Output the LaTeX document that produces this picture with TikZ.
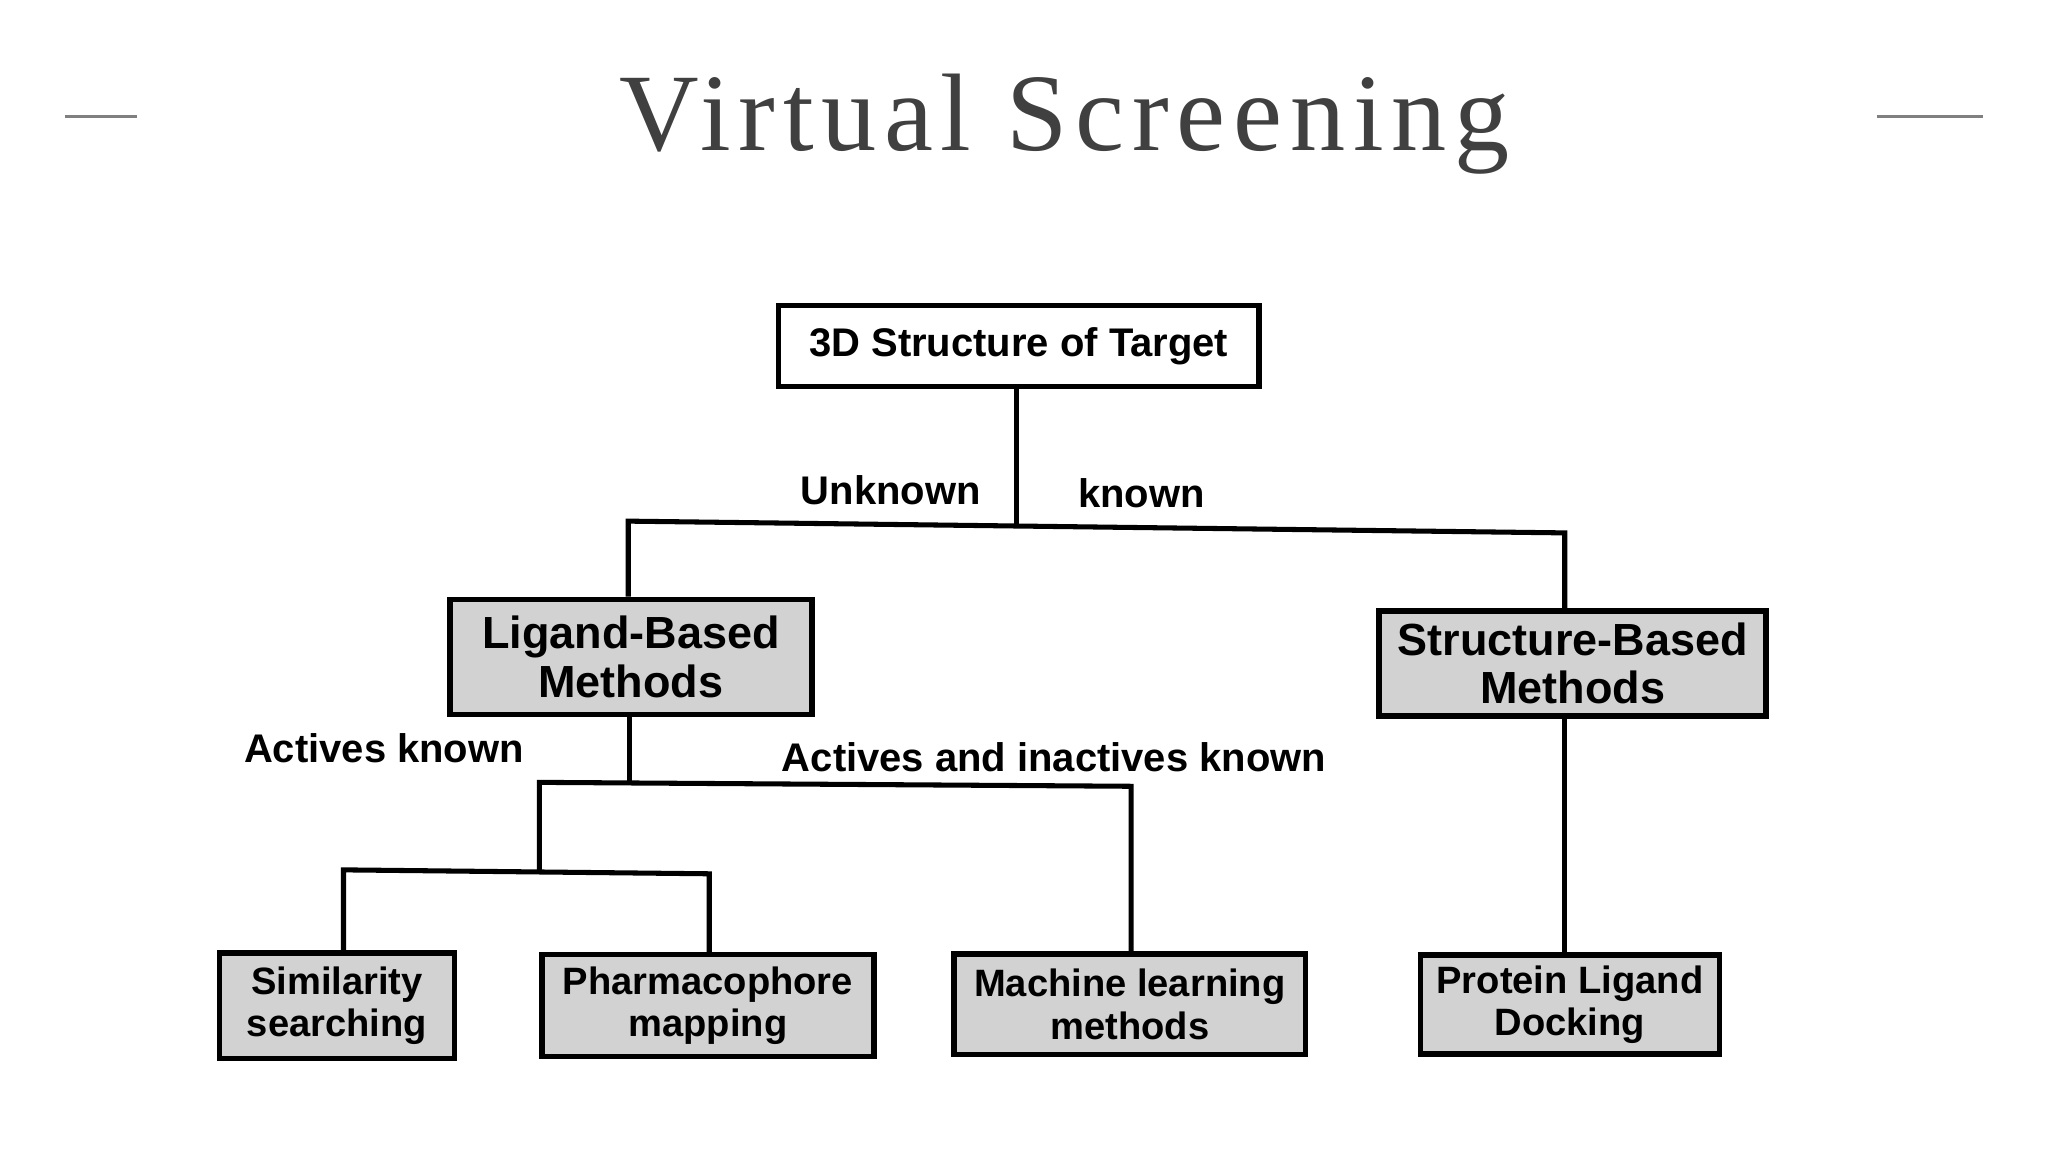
\documentclass[tikz,border=0pt]{standalone}
\usepackage{fontspec}
\setmainfont{Liberation Sans}
\newfontfamily\titlefont[LetterSpace=7]{Liberation Serif}
\begin{document}
\begin{tikzpicture}[x=0.01cm,y=-0.01cm,
  plain/.style={draw=black,line width=1.2pt,fill=white,font=\bfseries\fontsize{8.7}{10}\selectfont,inner sep=0pt},
  shaded/.style={draw=black,line width=1.2pt,fill=gray!35,font=\bfseries\fontsize{8.3}{9.2}\selectfont,align=center,inner sep=0pt},
  big/.style={font=\bfseries\fontsize{9.8}{10.6}\selectfont},
  lab/.style={font=\bfseries\fontsize{8.7}{10}\selectfont},
  conn/.style={line width=1.1pt}]
\useasboundingbox (0,0) rectangle (1568,882);
\node[font=\titlefont\fontsize{24}{26}\selectfont,text=black!75] (title) at (815,95) {Virtual Screening};
\coordinate (l1) at (50,89); \coordinate (l2) at (105,89);
\coordinate (r1) at (1437,89); \coordinate (r2) at (1518,89);
\draw[gray,line width=0.6pt] (l1)--(l2) (r1)--(r2);
\node[plain,minimum width=3.68cm,minimum height=0.62cm] (top) at (780,265) {3D Structure of Target};
\node[shaded,big,minimum width=2.77cm,minimum height=0.88cm] (lig) at (483,503) {Ligand-Based\\Methods};
\node[shaded,big,minimum width=2.96cm,minimum height=0.80cm] (str) at (1204,508) {Structure-Based\\Methods};
\node[shaded,minimum width=1.80cm,minimum height=0.81cm] (sim) at (258,770) {Similarity\\searching};
\node[shaded,minimum width=2.54cm,minimum height=0.78cm] (pha) at (542,770) {Pharmacophore\\mapping};
\node[shaded,minimum width=2.69cm,minimum height=0.77cm] (mac) at (865,769) {Machine learning\\methods};
\node[shaded,minimum width=2.29cm,minimum height=0.76cm] (pro) at (1202,769) {Protein Ligand\\Docking};
\coordinate (j1) at (778,401);
\coordinate (a1) at (481,399); \coordinate (a2) at (1198,408);
\coordinate (j2) at (482,599);
\coordinate (b1) at (413,599); \coordinate (b2) at (866,602);
\coordinate (c1) at (263,666); \coordinate (c2) at (543,669);
\draw[conn] (top.south -| j1) -- (j1);
\draw[conn] (lig.north -| a1) -- (a1) -- (a2) -- (str.north -| a2);
\draw[conn] (lig.south -| j2) -- (j2);
\draw[conn] (mac.north -| b2) -- (b2) -- (b1) -- (b1 |- c1);
\draw[conn] (sim.north -| c1) -- (c1) -- (c2) -- (pha.north -| c2);
\draw[conn] (str.south -| a2) -- (pro.north -| a2);
\node[lab] (unk) at (682,375) {Unknown};
\node[lab] (kn) at (874,378) {known};
\node[lab] (ak) at (294,573) {Actives known};
\node[lab] (aik) at (807,580) {Actives and inactives known};
\end{tikzpicture}
\end{document}
